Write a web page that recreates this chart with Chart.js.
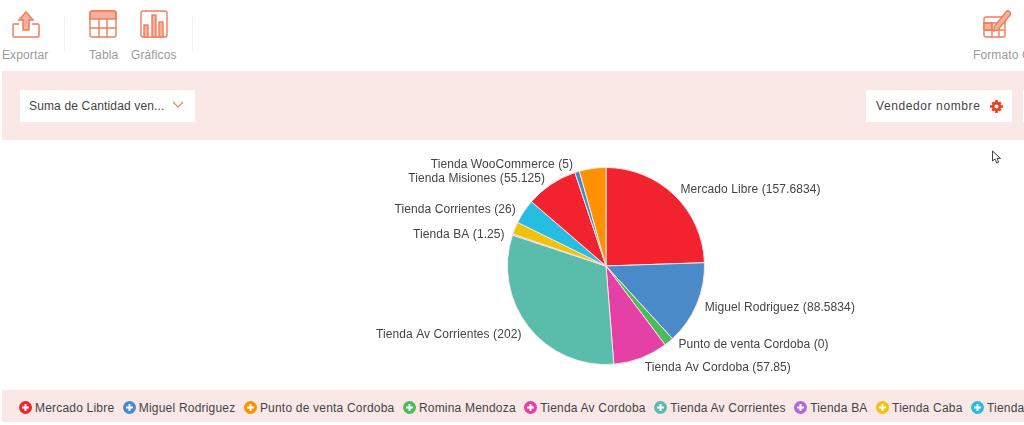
<!DOCTYPE html>
<html>
<head>
<meta charset="utf-8">
<script src="https://cdn.jsdelivr.net/npm/chart.js@4"></script>
<style>
  html, body { margin: 0; padding: 0; background: #fff; }
  body { width: 1024px; height: 425px; overflow: hidden; position: relative; font-family: "Liberation Sans", Arial, sans-serif; }
  .abs { position: absolute; }
  .tool { color: #9a9a9a; font-size: 12px; white-space: nowrap; letter-spacing: .12px; }
  .sep { width: 1px; height: 36px; top: 17px; background: #f0f0f0; }
  .band { background: #fae8e6; left: 2px; right: 0; }
  .box { background: #fff; height: 32px; line-height: 32px; top: 90px; font-size: 12px; color: #444; white-space: nowrap; }
  #legend { top: 390px; height: 32px; line-height: 36px; left: 2px; right: 0; overflow: hidden; white-space: nowrap; background: #fae8e6; font-size: 12px; letter-spacing: .2px; color: #444; padding-left: 17px; box-sizing: border-box; }
  #legend span.item { margin-right: 8.5px; }
  #legend svg { vertical-align: -2px; margin-right: 3px; }
  #chartWrap { left: 0; top: 141px; width: 1024px; height: 249px; }
</style>
</head>
<body>

<!-- barra de herramientas -->
<svg class="abs" style="left:11px;top:10px" width="30" height="30" viewBox="0 0 30 30" fill="none" stroke="#ef7d5c" stroke-width="1.5">
  <path d="M2 14h6M21 14h6a1 1 0 0 1 1 1v11a1 1 0 0 1-1 1H3a1 1 0 0 1-1-1V15a1 1 0 0 1 1-1"/>
  <path d="M15 2l7 8h-4v10h-6V10H8z" fill="#f6b09c"/>
</svg>
<div class="abs tool" style="left:2px;top:48px">Exportar</div>
<div class="abs sep" style="left:64px"></div>
<svg class="abs" style="left:89px;top:10px" width="28" height="28" viewBox="0 0 28 28" fill="none" stroke="#ef7d5c" stroke-width="1.4">
  <path d="M1 9V3a2 2 0 0 1 2-2h22a2 2 0 0 1 2 2v6z" fill="#f6b09c"/>
  <rect x="1" y="1" width="26" height="26" rx="2"/>
  <path d="M1 18h26M10 9v18M18 9v18"/>
</svg>
<div class="abs tool" style="left:89px;top:48px">Tabla</div>
<svg class="abs" style="left:140px;top:10px" width="28" height="28" viewBox="0 0 28 28" fill="none" stroke="#ef7d5c" stroke-width="1.4">
  <rect x="1" y="1" width="26" height="26" rx="2"/>
  <rect x="4" y="15" width="4" height="12" fill="#f6b09c"/>
  <rect x="12" y="5" width="4" height="22" fill="#f6b09c"/>
  <rect x="19" y="12" width="4" height="15" fill="#f6b09c"/>
</svg>
<div class="abs tool" style="left:131px;top:48px">Gráficos</div>
<div class="abs sep" style="left:192px"></div>
<svg class="abs" style="left:983px;top:10px" width="28" height="28" viewBox="0 0 28 28" fill="none" stroke="#ef7d5c" stroke-width="1.4">
  <rect x="1" y="7" width="21" height="20" rx="2"/>
  <rect x="1" y="13" width="8" height="7" fill="#f6b09c"/>
  <path d="M1 13h21M1 20h21M9 13v14M16 13v14"/>
  <path d="M11 17L23 2a2 2 0 0 1 4 3L15 20l-4 1z" fill="#f6b09c"/>
</svg>
<div class="abs tool" style="left:973px;top:48px">Formato Condicional</div>

<!-- filtros -->
<div class="abs band" style="top:71px;height:69px"></div>
<div class="abs box" style="left:20px;width:175px;padding-left:9px;box-sizing:border-box;letter-spacing:.15px">Suma de Cantidad ven...</div>
<svg class="abs" style="left:172px;top:101px" width="12" height="8" fill="none" stroke="#ef7d5c" stroke-width="1.1"><path d="M1 1l5 5 5-5"/></svg>
<div class="abs box" style="left:866px;width:146px;padding-left:10px;box-sizing:border-box;letter-spacing:.6px">Vendedor nombre</div>
<svg class="abs" style="left:990px;top:100px" width="13" height="13" viewBox="0 0 13 13">
  <circle cx="6.5" cy="6.5" r="3.4" fill="none" stroke="#e8401c" stroke-width="2.6"/>
  <path d="M5.2 0h2.6v2.6H5.2zM5.2 10.4h2.6V13H5.2zM0 5.2h2.6v2.6H0zM10.4 5.2H13v2.6h-2.6zM1.4 3.2l1.8-1.8 1.6 1.6-1.8 1.8zM8.2 10l1.8-1.8 1.6 1.6-1.8 1.8zM1.4 9.8L3 8.2 4.8 10l-1.6 1.6zM8.2 3L10 1.4l1.6 1.8L9.8 4.8z" fill="#e8401c"/>
</svg>
<div class="abs box" style="left:1023px;width:10px"></div>

<!-- puntero -->
<svg class="abs" style="left:991px;top:150px" width="12" height="15" viewBox="0 0 12 15"><path d="M1.5 1v10l2.6-2 1.6 4 2-.8-1.6-3.8h3.4z" fill="#fff" stroke="#444" stroke-width="1"/></svg>

<div class="abs" id="chartWrap"><canvas id="pieChart"></canvas></div>
<div class="abs" id="legend"></div>

<script>
// Datos
const categories = ['Mercado Libre', 'Miguel Rodriguez', 'Punto de venta Cordoba', 'Romina Mendoza', 'Tienda Av Cordoba', 'Tienda Av Corrientes', 'Tienda BA', 'Tienda Caba', 'Tienda Corrientes', 'Tienda Misiones', 'Tienda WooCommerce', 'Otros'];
const values = [157.6834, 88.5834, 0, 10, 57.85, 202, 1.25, 13, 26, 55.125, 5, 28];
const colors = ['#f2222f', '#4a8ac9', '#ff9100', '#4cbb5a', '#e440a6', '#5abcab', '#b266dc', '#f2c10a', '#27bde0', '#f2222f', '#4a8ac9', '#ff9100'];

// Rotulos visibles: desplazamiento [dx, dy] desde el borde del sector (null = sin rotulo)
const labelOffsets = [[6, -6], [8, 3], [6, 6], null, [4, 10], [-7, 8], [-8, 0], null, [-8, -2], [-6, -5], [-4, -7], null];

const sliceLabels = {
    id: 'sliceLabels',
    afterDatasetsDraw(chart) {
        const c = chart.ctx;
        c.save();
        c.font = '12px "Liberation Sans"';
        c.letterSpacing = '0.08px';
        c.fillStyle = '#444';
        c.textBaseline = 'middle';
        chart.getDatasetMeta(0).data.forEach((arc, i) => {
            if (!labelOffsets[i]) return;
            const mid = (arc.startAngle + arc.endAngle) / 2;
            const ax = arc.x + Math.cos(mid) * arc.outerRadius;
            const ay = arc.y + Math.sin(mid) * arc.outerRadius;
            c.textAlign = Math.cos(mid) >= 0 ? 'left' : 'right';
            c.fillText(categories[i] + ' (' + values[i] + ')', ax + labelOffsets[i][0], ay + labelOffsets[i][1]);
        });
        c.restore();
    }
};

new Chart(document.getElementById('pieChart'), {
    type: 'pie',
    data: {
        labels: categories,
        datasets: [{ data: values, backgroundColor: colors, borderColor: '#f3e6e6', borderWidth: 1 }]
    },
    options: {
        responsive: true,
        maintainAspectRatio: false,
        animation: false,
        layout: { padding: { left: 398, right: 210, top: 26, bottom: 25 } },
        plugins: { legend: { display: false }, tooltip: { enabled: false } }
    },
    plugins: [sliceLabels]
});

// Leyenda (los primeros nueve entran en la franja)
document.getElementById('legend').innerHTML = categories.map((name, i) =>
    '<span class="item"><svg width="13" height="13" viewBox="0 0 13 13"><circle cx="6.5" cy="6.5" r="6.5" fill="' + colors[i] + '"/>' +
    '<path d="M6.5 3v7M3 6.5h7" stroke="#fff" stroke-width="2"/></svg>' + name + '</span>').join('');
</script>
</body>
</html>
